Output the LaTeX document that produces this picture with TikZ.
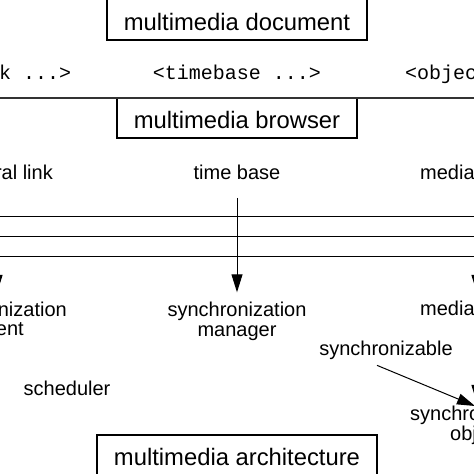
\documentclass[tikz,border=0pt]{standalone}
\usepackage{fontspec}
\setmainfont{Liberation Sans}
\setmonofont{Liberation Mono}
\usetikzlibrary{arrows.meta}

\begin{document}
\begin{tikzpicture}[x=1pt, y=1pt,
    box/.style={draw, line width=1.1pt, inner sep=0pt, font=\fontsize{23.8}{24}\selectfont,
        text height=22pt, text depth=0pt, minimum height=40pt},
    lbl/.style={inner sep=0pt, font=\fontsize{20}{19.5}\selectfont, align=center},
    tag/.style={inner sep=0pt, font=\ttfamily\fontsize{20}{20}\selectfont},
    rail/.style={line width=1pt},
    flow/.style={line width=1pt, -{Triangle[length=18pt,width=11pt]}}]
    \useasboundingbox (0,0) rectangle (474,474);
    \clip (0,0) rectangle (474,474);

    % boxes
    \node[box, minimum width=260pt, minimum height=48pt, text height=30pt, anchor=base] (doc) at (237,443) {multimedia document};
    \node[box, minimum width=240pt, anchor=base] (browser) at (237,345) {multimedia browser};
    \node[box, minimum width=280pt, minimum height=60pt, text depth=22pt, anchor=base] (arch) at (237,9) {multimedia architecture};

    % markup
    \node[tag, anchor=base west] (linktag) at (-1,394) {k ...>};
    \node[tag, anchor=base] (timetag) at (237,394) {<timebase ...>};
    \node[tag, anchor=base west] (objtag) at (405,394) {<objec};
    \draw[line width=1.4pt, black!80] (0,376) -- (474,376);

    \node[lbl, anchor=base east] (linklbl) at (53,294) {ral link};
    \node[lbl, anchor=base] (timelbl) at (237,294) {time base};
    \node[lbl, anchor=base west] (medialbl) at (420,294) {media};

    \foreach \y in {257,237,217}
        \draw[rail] (0,\y) -- (474,\y);

    \node[lbl, anchor=base east] (eventlbl) at (67,157) {nization};
    \node[lbl, anchor=base east] (eventlbl2) at (24,138) {ent};
    \node[lbl, anchor=base] (mgr) at (237,137.5) {synchronization\\manager};
    \node[lbl, anchor=base west] (mediamgr) at (420,158) {media};
    \node[lbl, anchor=base] (able) at (386,118) {synchronizable};
    \node[lbl, anchor=base] (sched) at (67,78) {scheduler};
    \node[lbl, anchor=base west] (syncobj) at (410,53) {synchro};
    \node[lbl, anchor=base west] (syncobj2) at (450,34) {obj};

    % arrows
    \coordinate (tbtop) at (237,276);
    \coordinate (ltop) at (-3,276);
    \coordinate (ltip) at (-3,181);
    \coordinate (rtop) at (477,276);
    \coordinate (rtip) at (477,181);
    \coordinate (rmid) at (477,145);
    \coordinate (rlow) at (477,71);
    \coordinate (objtip) at (475,68);

    \draw[flow, shorten >=10pt] (tbtop) -- (mgr.north);
    \draw[flow] (ltop) -- (ltip);
    \draw[flow] (rtop) -- (rtip);
    \draw[flow] (rmid) -- (rlow);
    \draw[flow] ([xshift=-9pt,yshift=-5pt]able.south) -- (objtip);
\end{tikzpicture}
\end{document}
